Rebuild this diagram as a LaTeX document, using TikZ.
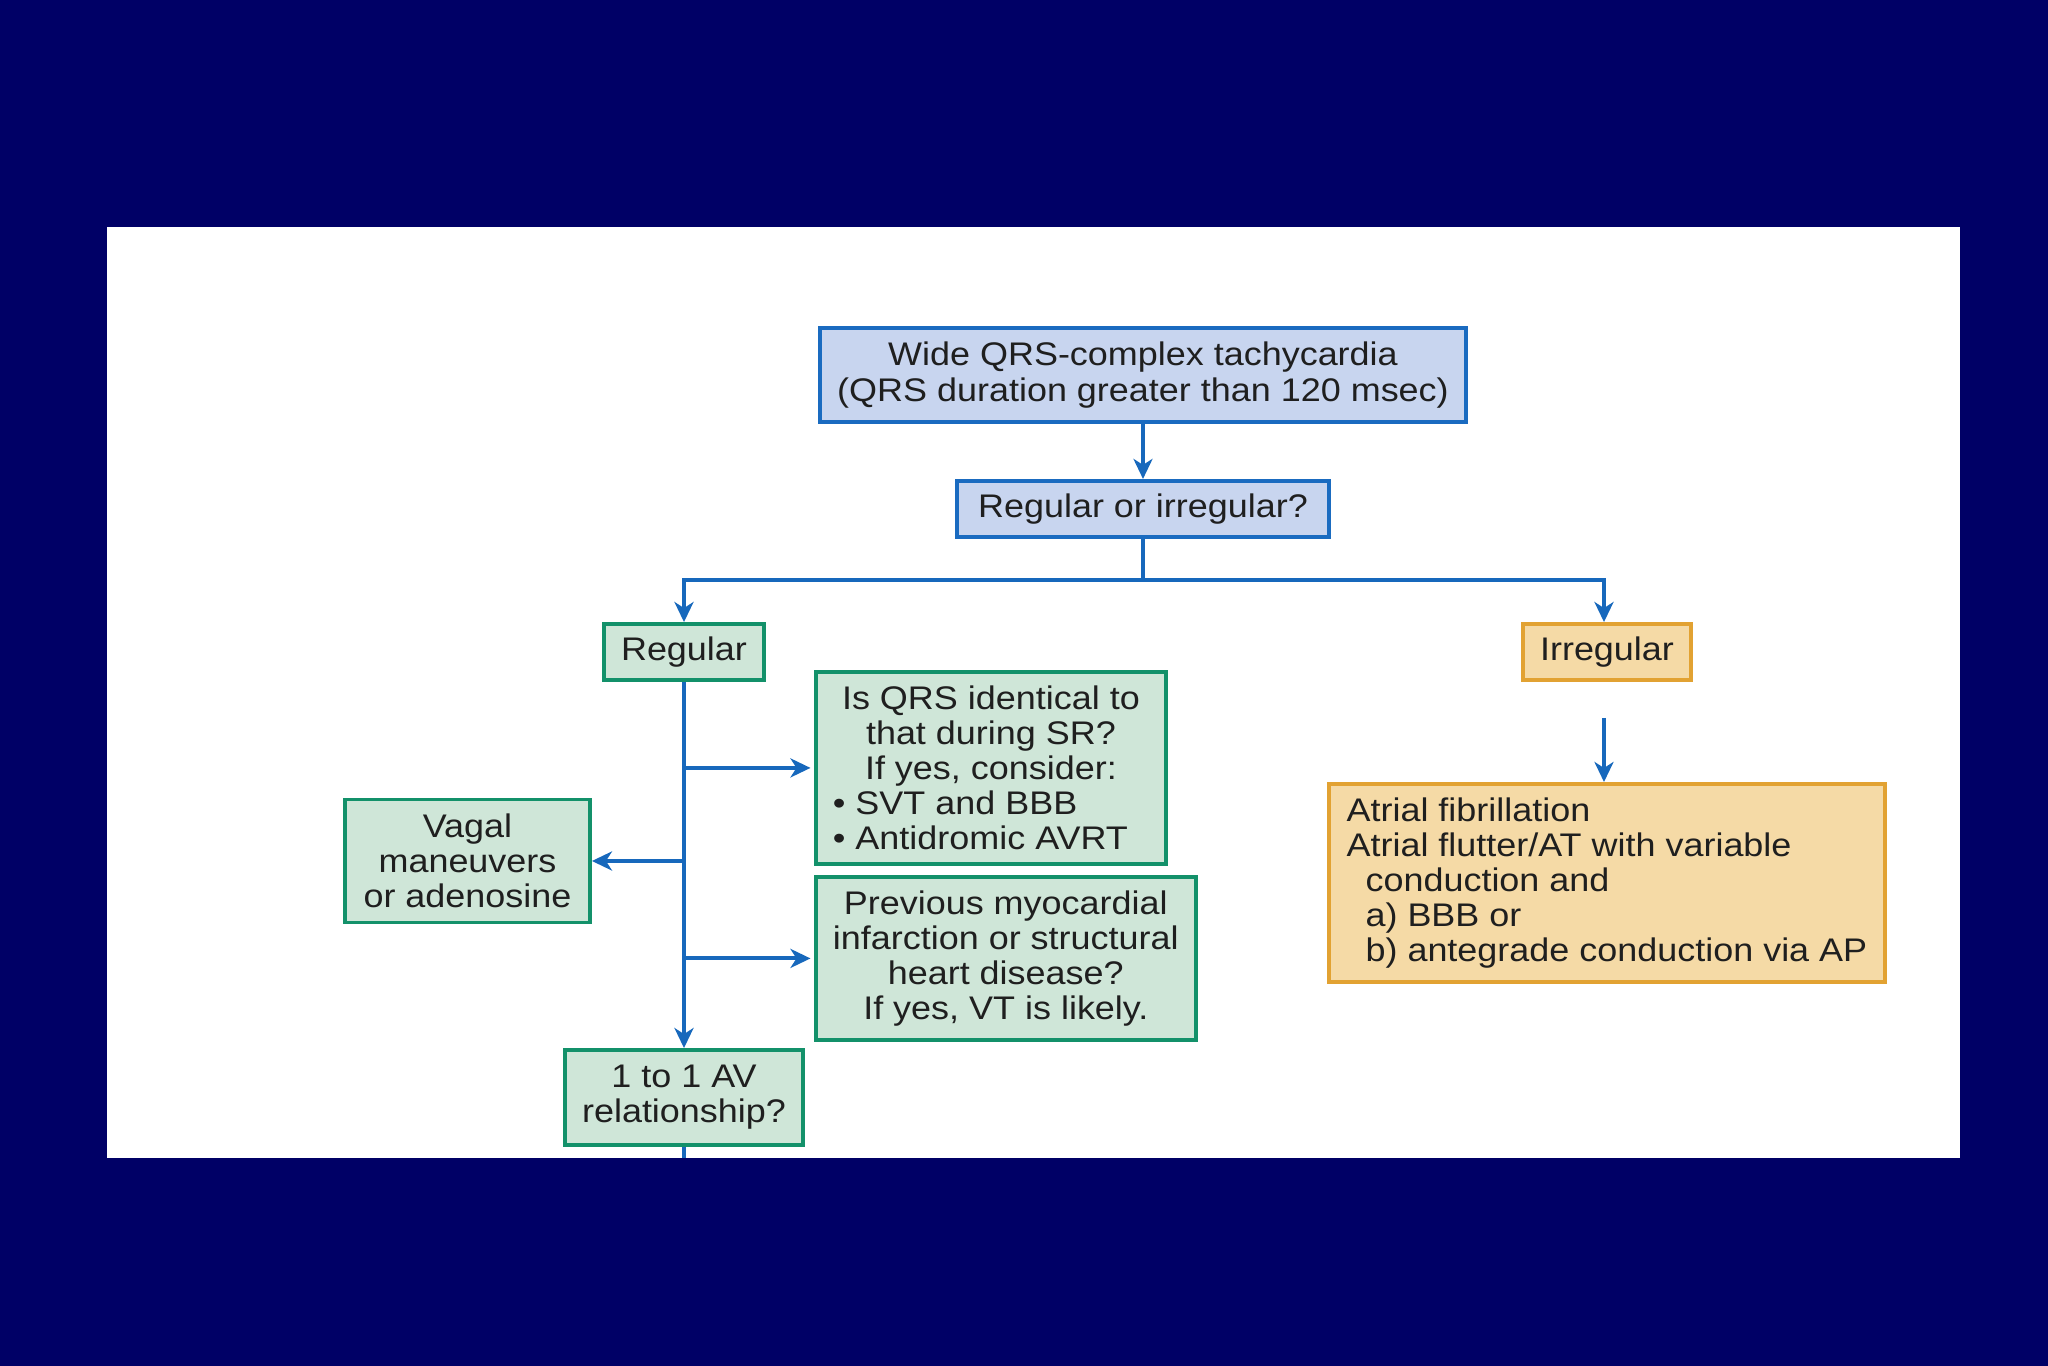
\documentclass[tikz,border=0pt]{standalone}
\usepackage{fontspec}
\setmainfont{Liberation Sans}[FakeStretch=1.1]
\usepackage{tikz}
\usetikzlibrary{arrows.meta,positioning,calc}
\definecolor{slidenavy}{HTML}{000066}
\definecolor{qblue}{HTML}{1A6BC0}
\definecolor{qbluefill}{HTML}{C8D5EF}
\definecolor{rgreen}{HTML}{13916A}
\definecolor{rgreenfill}{HTML}{CFE6D8}
\definecolor{iorange}{HTML}{E2A232}
\definecolor{iorangefill}{HTML}{F5DAA6}
\definecolor{lnblue}{HTML}{1768BC}

\begin{document}
\begin{tikzpicture}[
  base/.style={line width=1.1pt,inner xsep=1.7mm,inner ysep=0.8mm,align=center,
               text=black!88,font=\fontsize{9.3}{10}\selectfont},
  b/.style={base,draw=qblue,fill=qbluefill},
  g/.style={base,draw=rgreen,fill=rgreenfill},
  o/.style={base,draw=iorange,fill=iorangefill},
  l/.style={draw=lnblue,line width=1.1pt},
  r/.style={l,-{Stealth[length=2mm,width=1.9mm,inset=0.6mm]}}
]
\useasboundingbox[fill=slidenavy] (0,0) rectangle (20.48,-13.66);
\fill[white] (1.07,-2.27) rectangle (19.60,-11.58);

\node[b,minimum width=6.45cm,minimum height=0.94cm] (top) at (11.43,-3.75)
  {Wide QRS-complex tachycardia\\(QRS duration greater than 120 msec)};
\node[b,below=0.55cm of top,minimum width=3.72cm,minimum height=0.56cm] (rq)
  {Regular or irregular?};

\node[g,minimum width=1.60cm,minimum height=0.56cm] (reg) at (6.84,-6.52) {Regular};
\node[o,minimum width=1.68cm,minimum height=0.56cm] (irr) at (16.07,-6.52) {Irregular};

\node[g,anchor=north west,minimum width=3.50cm,minimum height=1.92cm,inner xsep=0.17cm]
  (isqrs) at (8.14,-6.70)
  {Is QRS identical to\\that during SR?\\If yes, consider:\\
   \makebox[3.16cm][l]{\textbullet\ SVT and BBB}\\
   \makebox[3.16cm][l]{\textbullet\ Antidromic AVRT}};
\node[g,anchor=north west,minimum width=3.78cm,minimum height=1.63cm]
  (prevmi) at (8.14,-8.75)
  {Previous myocardial\\infarction or structural\\heart disease?\\If yes, VT is likely.};
\node[g,minimum width=2.45cm,minimum height=1.23cm] (vagal) at (4.675,-8.61)
  {Vagal\\maneuvers\\or adenosine};
\node[g,minimum width=2.37cm,minimum height=0.95cm] (avrel) at (6.84,-10.975)
  {1 to 1 AV\\relationship?};

\node[o,anchor=north west,align=left,minimum width=5.56cm,minimum height=1.98cm,
      inner xsep=0.17cm] (afib) at (13.27,-7.82)
  {Atrial fibrillation\\Atrial flutter/AT with variable\\
   \hspace*{0.19cm}conduction and\\\hspace*{0.19cm}a) BBB or\\
   \hspace*{0.19cm}b) antegrade conduction via AP};

% branches
\draw[r] (top) -- (rq);
\draw[l] (rq.south) -- ++(0,-0.41) coordinate (split);
\draw[r] (split) -| (reg.north);
\draw[r] (split) -| ($(irr.north)+(-0.03,0)$);
\draw[r] (reg.south) -- (avrel.north);
\draw[r,shorten >=1pt] (reg.south |- isqrs.west) -- (isqrs.west);
\draw[r] (reg.south |- vagal.east) -- (vagal.east);
\draw[r,shorten >=1pt] (reg.south |- prevmi.west) -- (prevmi.west);
\coordinate (stub) at (6.84,-11.58);
\draw[l] (avrel.south) -- (stub);
\coordinate (afin) at (16.04,-7.18);
\draw[r] (afin) -- (afin |- afib.north);
\end{tikzpicture}
\end{document}
